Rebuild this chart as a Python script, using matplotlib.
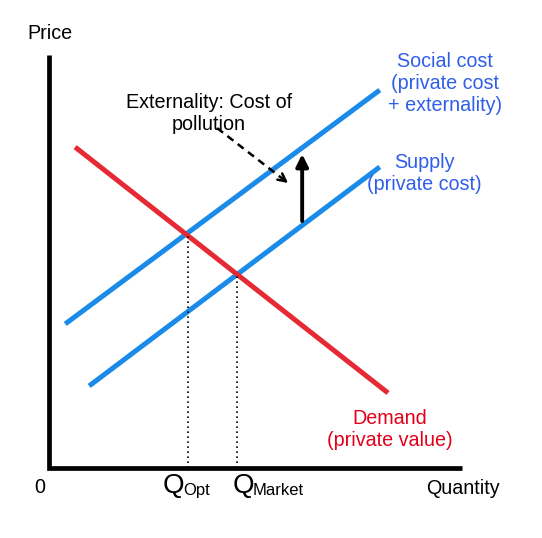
import numpy as np
import matplotlib
matplotlib.use('Agg')
import matplotlib.pyplot as plt

plt.rcParams['font.family'] = ['Liberation Sans', 'DejaVu Sans']

# Curvas (unidades do gráfico: eixos de 0 a 10)
demanda_q = [0.63, 8.21]
demanda_p = [7.77, 1.82]
social_q = [0.39, 8.01]
social_p = [3.49, 9.15]
oferta_q = [0.97, 8.01]
oferta_p = [1.99, 7.29]

# Equilíbrios
q_opt, p_opt = 3.37, 5.67
q_mkt, p_mkt = 4.55, 4.72

# Seta da externalidade (deslocamento da curva)
seta_q = 6.13
seta_p = [5.98, 7.60]
nota_ini = (4.07, 8.23)
nota_fim = (5.79, 6.90)

azul_linha = '#1a8be8'
azul_texto = '#2f5fe8'
vermelho_linha = '#e52a35'
vermelho_texto = '#e3001b'

fig = plt.figure(figsize=(5.42, 5.38), dpi=100)
ax = fig.add_axes([0, 0, 1, 1])
ax.set_xlim(-1.19, 11.94)
ax.set_ylim(-1.69, 11.33)
ax.axis('off')

# Eixos
ax.plot([0, 0, 10], [9.99, 0, 0], color='black', lw=3.4, solid_joinstyle='miter', solid_capstyle='butt')

# Curvas
ax.plot(social_q, social_p, color=azul_linha, lw=3.6, solid_capstyle='butt')
ax.plot(oferta_q, oferta_p, color=azul_linha, lw=3.6, solid_capstyle='butt')
ax.plot(demanda_q, demanda_p, color=vermelho_linha, lw=3.6, solid_capstyle='butt')

# Linhas pontilhadas até o eixo
ax.plot([q_opt, q_opt], [0, p_opt], color='black', lw=1.2, linestyle=(0, (1, 2)))
ax.plot([q_mkt, q_mkt], [0, p_mkt], color='black', lw=1.2, linestyle=(0, (1, 2)))

# Seta vertical
ax.annotate('', xy=(seta_q, seta_p[1]), xytext=(seta_q, seta_p[0]),
            arrowprops=dict(arrowstyle='-|>', color='black', lw=2.8, mutation_scale=18,
                            shrinkA=0, shrinkB=0))

# Seta tracejada da nota
fx = nota_ini[0] + 0.93 * (nota_fim[0] - nota_ini[0])
fy = nota_ini[1] + 0.93 * (nota_fim[1] - nota_ini[1])
ax.plot([nota_ini[0], fx], [nota_ini[1], fy], color='black', lw=1.8, linestyle=(0, (3, 2.2)))
ax.annotate('', xy=nota_fim, xytext=(fx, fy),
            arrowprops=dict(arrowstyle='->', color='black', lw=1.8, mutation_scale=14,
                            shrinkA=0, shrinkB=0))

# Textos
fs = 14.2
ls = 1.2
ax.text(0.02, 10.53, 'Price', fontsize=fs, ha='center', va='center')
ax.text(3.87, 8.58, 'Externality: Cost of\npollution', fontsize=fs, ha='center', va='center',
        linespacing=ls)
ax.text(9.59, 9.30, 'Social cost\n(private cost\n+ externality)', fontsize=fs, ha='center',
        va='center', color=azul_texto, linespacing=ls)
ax.text(9.08, 7.12, 'Supply\n(private cost)', fontsize=fs, ha='center', va='center',
        color=azul_texto, linespacing=ls)
ax.text(8.26, 0.94, 'Demand\n(private value)', fontsize=fs, ha='center', va='center',
        color=vermelho_texto, linespacing=ls)

ax.text(-0.22, -0.61, '0', fontsize=fs, ha='center', va='baseline')
ax.text(10.02, -0.63, 'Quantity', fontsize=fs, ha='center', va='baseline')

ax.text(2.76, -0.61, 'Q', fontsize=20, ha='left', va='baseline')
ax.text(3.25, -0.65, 'Opt', fontsize=12, ha='left', va='baseline')
ax.text(4.44, -0.61, 'Q', fontsize=20, ha='left', va='baseline')
ax.text(4.93, -0.65, 'Market', fontsize=12, ha='left', va='baseline')

fig.savefig('out.png', dpi=100)
